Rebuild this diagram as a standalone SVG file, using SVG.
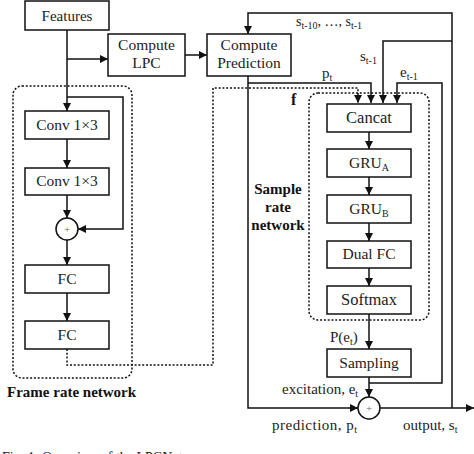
<svg xmlns="http://www.w3.org/2000/svg" width="474" height="454" viewBox="0 0 474 454">
<defs>
<marker id="ah" viewBox="0 0 10 10" refX="10" refY="5" markerWidth="8" markerHeight="8" markerUnits="userSpaceOnUse" orient="auto"><path d="M0,0 L10,5 L0,10 z" fill="#111"/></marker>
<style>
.box{fill:#fff;stroke:#111;stroke-width:1.5}
.ln{fill:none;stroke:#111;stroke-width:1.5}
.dot{fill:none;stroke:#111;stroke-width:1.5;stroke-dasharray:2 1.8}
.t{font-family:"Liberation Serif","Times New Roman",serif;font-size:15.5px;fill:#222;text-anchor:middle}
.lb{font-family:"Liberation Serif","Times New Roman",serif;font-size:15px;fill:#222}
.b{font-family:"Liberation Serif","Times New Roman",serif;font-size:15px;font-weight:bold;fill:#111}
.sub{font-size:10px}
</style>
</defs>
<rect width="474" height="454" fill="#fff"/>

<g id="frame-rate-network">
<rect class="dot" x="13" y="86" width="119" height="292" rx="9"/>
<text class="b" x="7" y="397">Frame rate network</text>
</g>
<g id="sample-rate-network">
<rect class="dot" x="309" y="93" width="120" height="227" rx="9"/>
<text class="b" x="291" y="105" style="font-size:16px">f</text>
<text class="b" x="278" y="194" text-anchor="middle">Sample</text>
<text class="b" x="278" y="212" text-anchor="middle">rate</text>
<text class="b" x="278" y="230" text-anchor="middle">network</text>
</g>

<g id="connectors">
<path class="ln" d="M67,30 V111" marker-end="url(#ah)"/>
<path class="ln" d="M67,59 H108" marker-end="url(#ah)"/>
<path class="ln" d="M185,55 H207" marker-end="url(#ah)"/>
<path class="ln" d="M67,97 H123 V229 H78" marker-end="url(#ah)"/>
<path class="ln" d="M67,139 V168" marker-end="url(#ah)"/>
<path class="ln" d="M67,195 V218" marker-end="url(#ah)"/>
<path class="ln" d="M67,240 V265" marker-end="url(#ah)"/>
<path class="ln" d="M67,293 V321" marker-end="url(#ah)"/>
<path class="dot" d="M67,349 V365 H213 V88 H358 V103" marker-end="url(#ah)"/>
<path class="ln" d="M248,76 V408 H358" marker-end="url(#ah)"/>
<path class="ln" d="M248,83 H371 V103" marker-end="url(#ah)"/>
<path class="ln" d="M380,408 H474" marker-end="url(#ah)"/>
<path class="ln" d="M452,408 V13 H248 V34" marker-end="url(#ah)"/>
<path class="ln" d="M452,41 H383 V103" marker-end="url(#ah)"/>
<path class="ln" d="M369,383 H442 V83 H397 V103" marker-end="url(#ah)"/>
<path class="ln" d="M369,132 V149" marker-end="url(#ah)"/>
<path class="ln" d="M369,177 V195" marker-end="url(#ah)"/>
<path class="ln" d="M369,223 V241" marker-end="url(#ah)"/>
<path class="ln" d="M369,268 V286" marker-end="url(#ah)"/>
<path class="ln" d="M369,314 V349" marker-end="url(#ah)"/>
<path class="ln" d="M369,377 V397" marker-end="url(#ah)"/>
<text class="lb" x="296" y="26" style="font-size:14px">s<tspan class="sub" dy="3">t-10</tspan><tspan dy="-3">, …, s</tspan><tspan class="sub" dy="3">t-1</tspan></text>
<text class="lb" x="360" y="61">s<tspan class="sub" dy="3">t-1</tspan></text>
<text class="lb" x="322" y="78">p<tspan class="sub" dy="3">t</tspan></text>
<text class="lb" x="400" y="77">e<tspan class="sub" dy="3">t-1</tspan></text>
<text class="lb" x="330" y="342">P(e<tspan class="sub" dy="3">t</tspan><tspan dy="-3">)</tspan></text>
<text class="lb" x="282" y="394">excitation, e<tspan class="sub" dy="3">t</tspan></text>
<text class="lb" x="272" y="430" letter-spacing="0.5">prediction, p<tspan class="sub" dy="3">t</tspan></text>
<text class="lb" x="403" y="430">output, s<tspan class="sub" dy="3">t</tspan></text>
</g>

<g id="features"><rect class="box" x="25" y="1" width="84" height="29"/><text class="t" x="67" y="21" style="font-size:15px">Features</text></g>
<g id="compute-lpc"><rect class="box" x="108" y="34" width="77" height="42"/><text class="t" x="146.5" y="50">Compute</text><text class="t" x="146.5" y="68">LPC</text></g>
<g id="compute-prediction"><rect class="box" x="207" y="34" width="84" height="42"/><text class="t" x="249" y="50">Compute</text><text class="t" x="249" y="68">Prediction</text></g>
<g id="conv1"><rect class="box" x="25" y="111" width="84" height="28"/><text class="t" x="67" y="130">Conv 1×3</text></g>
<g id="conv2"><rect class="box" x="25" y="168" width="84" height="27"/><text class="t" x="67" y="186">Conv 1×3</text></g>
<g id="add1"><circle class="box" cx="67" cy="229" r="11"/><text class="t" x="67" y="233" style="font-size:11px;fill:#666">+</text></g>
<g id="fc1"><rect class="box" x="25" y="265" width="84" height="28"/><text class="t" x="67" y="284">FC</text></g>
<g id="fc2"><rect class="box" x="25" y="321" width="84" height="28"/><text class="t" x="67" y="340">FC</text></g>
<g id="cancat"><rect class="box" x="327" y="104" width="84" height="28"/><text class="t" x="369" y="123" style="font-size:16.5px">Cancat</text></g>
<g id="gru-a"><rect class="box" x="327" y="149" width="84" height="28"/><text class="t" x="369" y="168">GRU<tspan class="sub" dy="3">A</tspan></text></g>
<g id="gru-b"><rect class="box" x="327" y="195" width="84" height="28"/><text class="t" x="369" y="214">GRU<tspan class="sub" dy="3">B</tspan></text></g>
<g id="dual-fc"><rect class="box" x="327" y="241" width="84" height="27"/><text class="t" x="369" y="259">Dual FC</text></g>
<g id="softmax"><rect class="box" x="327" y="286" width="84" height="28"/><text class="t" x="369" y="305" style="font-size:16.5px">Softmax</text></g>
<g id="sampling"><rect class="box" x="327" y="349" width="84" height="28"/><text class="t" x="369" y="368">Sampling</text></g>
<g id="add2"><circle class="box" cx="369" cy="408" r="11"/><text class="t" x="369" y="412" style="font-size:11px;fill:#666">+</text></g>

<text class="lb" x="2" y="462" style="font-size:14px">Fig. 1: Overview of the LPCNet</text>
</svg>
